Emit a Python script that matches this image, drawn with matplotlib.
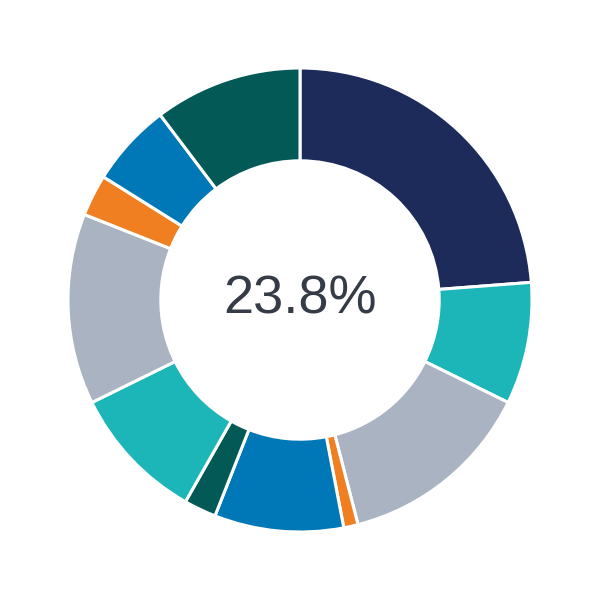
import matplotlib
matplotlib.use("Agg")
import matplotlib.pyplot as plt

# Shares, clockwise from 12 o'clock
values = [23.8, 8.5, 13.7, 1.0, 9.0, 2.25, 9.5, 13.3, 2.9, 5.8, 10.3]
colors = ["#1c2b5a", "#1cb5b8", "#a9b3c1", "#f07f21", "#0077b6", "#035956",
          "#1cb5b8", "#a9b3c1", "#f07f21", "#0077b6", "#035956"]
center_label = "23.8%"

fig = plt.figure(figsize=(6, 6), dpi=100)
ax = fig.add_axes([0, 0, 1, 1])

ax.pie(values, colors=colors, startangle=90, counterclock=False, radius=1,
       wedgeprops=dict(width=0.4, edgecolor="white", linewidth=2.2))

ax.text(0, 0, center_label, ha="center", va="center", fontsize=39,
        color="#353b47", family=["Liberation Sans", "DejaVu Sans"])

lim = 300 / 232
ax.set_xlim(-lim, lim)
ax.set_ylim(-lim, lim)
ax.set_aspect("equal")
ax.axis("off")

fig.savefig("out.png", dpi=100, facecolor="white")
